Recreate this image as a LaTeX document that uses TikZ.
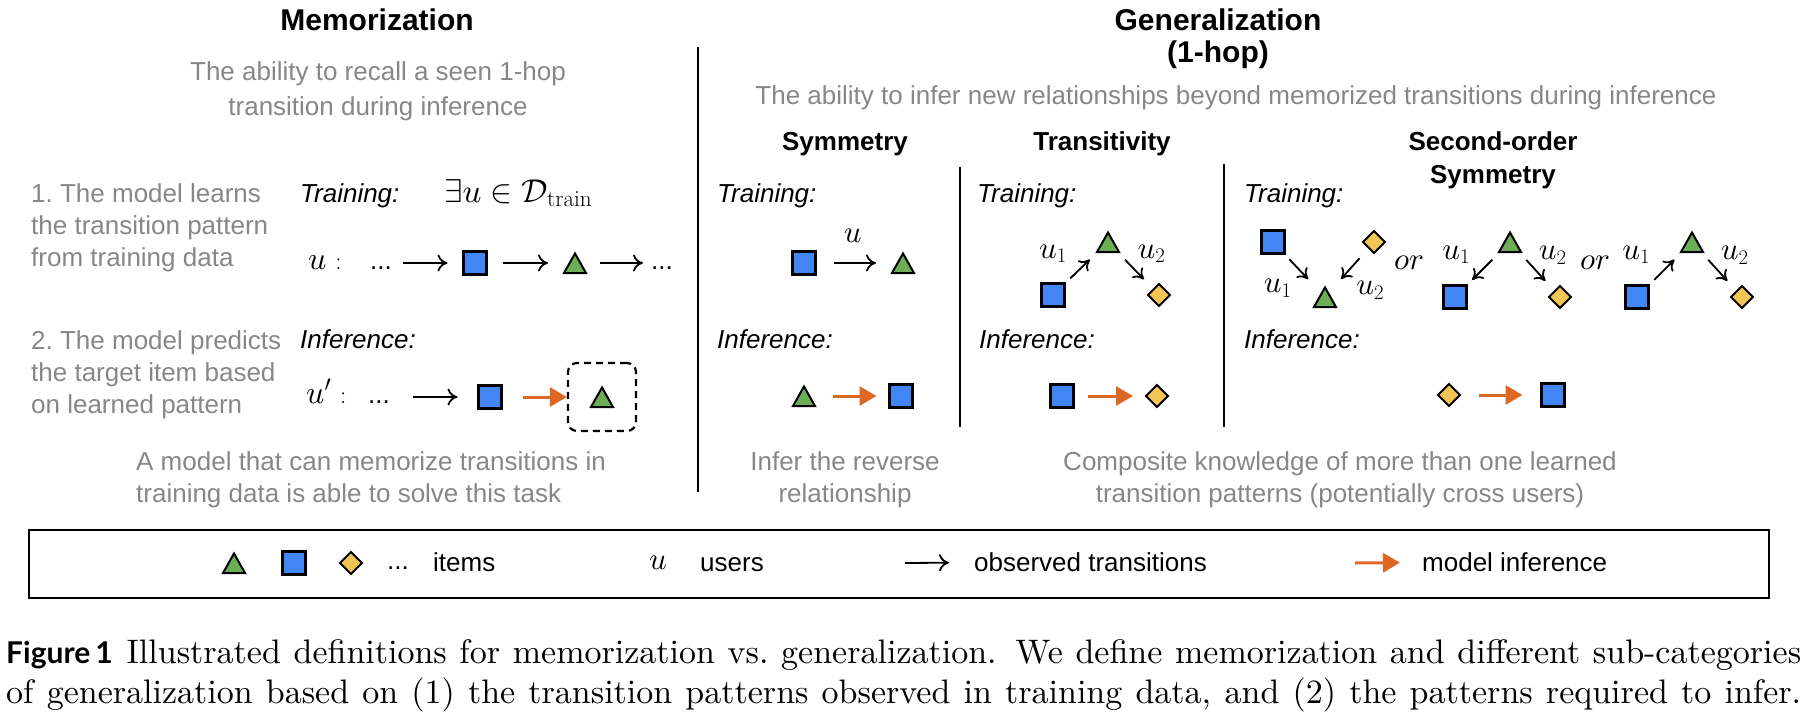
\documentclass[tikz,border=0pt]{standalone}
\usepackage{amsmath,amssymb}
\usepackage{fontspec}
\setsansfont{Liberation Sans}
\newfontfamily\figfont{Lato}
\newfontfamily\capfont{lmroman10-regular.otf}
\DeclareFontShape{OML}{cmm}{m}{it}{<->cmmi10}{}
\DeclareFontShape{OMS}{cmsy}{m}{n}{<->cmsy10}{}
\DeclareFontShape{OMX}{cmex}{m}{n}{<->cmex10}{}
\usetikzlibrary{arrows.meta,shapes.geometric,fit}
\definecolor{itblue}{RGB}{66,133,244}
\definecolor{itgreen}{RGB}{108,174,86}
\definecolor{ityellow}{RGB}{243,197,85}
\definecolor{inforange}{RGB}{221,104,36}
\definecolor{descgray}{RGB}{135,135,135}
\newcommand{\fsz}[2]{\fontsize{#1}{#2}\selectfont}

\begin{document}
\begin{tikzpicture}[x=1pt, y=-1pt,
    sq/.style={draw=black, fill=itblue, line width=2.2pt, minimum size=23pt, inner sep=0pt, outer sep=0pt},
    dia/.style={diamond, draw=black, fill=ityellow, line width=2pt, minimum width=22pt, minimum height=22pt, inner sep=0pt, outer sep=0pt},
    tri/.style={minimum width=26pt, minimum height=24pt, inner sep=0pt, outer sep=0pt,
      path picture={\draw[fill=itgreen, line width=2pt]
        ([xshift=2pt,yshift=2pt]path picture bounding box.south west) --
        ([xshift=-2pt,yshift=2pt]path picture bounding box.south east) --
        ([yshift=-2.5pt]path picture bounding box.north) -- cycle;}},
    dashbox/.style={draw=black, line width=2.2pt, dash pattern=on 7pt off 5pt, rounded corners=9pt, inner xsep=21pt, inner ysep=22pt},
    obs/.style={-{To[length=10pt,width=17pt]}, line width=1.8pt, shorten <=14pt, shorten >=14pt},
    diag/.style={-{To[length=10pt,width=15pt]}, line width=1.8pt, shorten <=8pt, shorten >=8pt},
    inf/.style={-{Triangle[length=17pt,width=19pt]}, line width=3pt, draw=inforange, shorten <=14pt, shorten >=14pt},
    sep/.style={line width=2.3pt},
    ttl/.style={font=\sffamily\bfseries\fsz{30}{32}, inner sep=0pt},
    hdr/.style={font=\sffamily\bfseries\fsz{26}{33}, inner sep=0pt},
    desc/.style={font=\sffamily\fsz{26}{32}, text=descgray, inner sep=0pt},
    txt/.style={font=\sffamily\fsz{26}{32}, inner sep=0pt},
    lbl/.style={font=\sffamily\itshape\fsz{26}{32}, inner sep=0pt},
    mth/.style={font=\fsz{31}{34}, inner sep=0pt},
    dots/.style={font=\sffamily\fsz{26}{32}, inner sep=0pt, text height=12pt, text depth=0pt}
  ]
  \useasboundingbox (0,0) rectangle (1807,725);

  % memorization
  \node[ttl, anchor=base] (memTitle) at (377,31) {Memorization};
  \node[desc, align=center, anchor=north, font=\sffamily\fsz{26}{35}] (memDesc) at (378,61)
    {The ability to recall a seen 1-hop\\transition during inference};
  \node[desc, align=left, anchor=north west] (stepOne) at (31,183)
    {1.\ The model learns\\the transition pattern\\from training data};
  \node[desc, align=left, anchor=north west] (stepTwo) at (31,330)
    {2.\ The model predicts\\the target item based\\on learned pattern};
  \node[lbl, anchor=base west] (trainM) at (300,202) {Training:};
  \node[mth, anchor=base west, font=\fsz{33}{36}] (dTrain) at (444,202) {$\exists u \in \mathcal{D}_{\mathrm{train}}$};
  \node[lbl, anchor=base west] (infM) at (300,348) {Inference:};

  \node[mth, anchor=base west, font=\fsz{32}{34}] (uA) at (308,269) {$u:$};
  \node[dots] (dotsA) at (381,263) {...};
  \node[sq] (sqA) at (475,263) {};
  \node[tri] (triA) at (575,263) {};
  \node[dots] (dotsAend) at (662,263) {...};
  \draw[obs, shorten <=11pt, shorten >=16pt] (dotsA) -- (sqA);
  \draw[obs, shorten <=16pt] (sqA) -- (triA);
  \draw[obs, shorten <=12pt, shorten >=8pt] (triA) -- (dotsAend);

  \node[mth, anchor=base west, font=\fsz{32}{34}] (uB) at (306,403) {$u':$};
  \node[dots] (dotsB) at (379,397) {...};
  \node[sq] (sqB) at (490,397) {};
  \node[tri] (triB) at (602,397) {};
  \node[dashbox, fit=(triB)] (boxB) {};
  \draw[obs, shorten <=23pt, shorten >=21pt] (dotsB) -- (sqB);
  \draw[inf, shorten <=21pt, shorten >=0pt] (sqB) -- (boxB);

  \node[desc, align=left, anchor=north west] (memNote) at (136,451)
    {A model that can memorize transitions in\\training data is able to solve this task};

  \draw[sep] (698,47) -- (698,492);

  % generalization
  \node[ttl, align=center, anchor=north] (genTitle) at (1218,9) {Generalization\\(1-hop)};
  \node[desc, anchor=base] (genDesc) at (1236,104)
    {The ability to infer new relationships beyond memorized transitions during inference};
  \node[hdr, anchor=base] (symTitle) at (845,150) {Symmetry};
  \node[hdr, anchor=base] (traTitle) at (1102,150) {Transitivity};
  \node[hdr, align=center, anchor=north] (socTitle) at (1493,131) {Second-order\\Symmetry};
  \draw[sep] (960,167) -- (960,427);
  \draw[sep] (1224,164) -- (1224,427);

  % symmetry
  \node[lbl, anchor=base west] (trainS) at (717,202) {Training:};
  \node[sq] (sqS) at (804,263) {};
  \node[tri] (triS) at (903,263) {};
  \draw[obs, shorten <=18pt] (sqS) -- node[mth, midway, above=20pt] (uS) {$u$} (triS);
  \node[lbl, anchor=base west] (infS) at (717,348) {Inference:};
  \node[tri] (triSi) at (804,396) {};
  \node[sq] (sqSi) at (901,396) {};
  \draw[inf, shorten <=16pt, shorten >=13pt] (triSi) -- (sqSi);
  \node[desc, align=center, anchor=north] (symNote) at (845,451) {Infer the reverse\\relationship};

  % transitivity
  \node[lbl, anchor=base west] (trainT) at (977,202) {Training:};
  \node[tri] (triT) at (1108,242) {};
  \node[sq] (sqT) at (1053,295) {};
  \node[dia] (diaT) at (1159,295) {};
  \draw[diag] (sqT) -- node[mth, midway, xshift=-27pt, yshift=15pt] {$u_1$} (triT);
  \draw[diag, shorten >=14pt] (triT) -- node[mth, midway, xshift=15pt, yshift=18pt] {$u_2$} (diaT);
  \node[lbl, anchor=base west] (infT) at (979,348) {Inference:};
  \node[sq] (sqTi) at (1062,396) {};
  \node[dia] (diaTi) at (1157,396) {};
  \draw[inf, shorten >=13pt] (sqTi) -- (diaTi);
  \node[desc, align=center, anchor=north] (genNote) at (1340,451)
    {Composite knowledge of more than one learned\\transition patterns (potentially cross users)};

  % second-order symmetry
  \node[lbl, anchor=base west] (trainO) at (1244,202) {Training:};
  \node[sq] (sqO1) at (1273,242) {};
  \node[dia] (diaO1) at (1374,242) {};
  \node[tri] (triO1) at (1325,297) {};
  \draw[diag] (sqO1) -- node[mth, midway, xshift=-21pt, yshift=-19pt] {$u_1$} (triO1);
  \draw[diag, shorten <=14pt] (diaO1) -- node[mth, midway, xshift=18pt, yshift=-24pt] {$u_2$} (triO1);
  \node[mth, anchor=base] (orOne) at (1409,269) {$or$};
  \node[tri] (triO2) at (1510,242) {};
  \node[sq] (sqO2) at (1455,297) {};
  \node[dia] (diaO2) at (1560,297) {};
  \draw[diag] (triO2) -- node[mth, midway, xshift=-26pt, yshift=15pt] {$u_1$} (sqO2);
  \draw[diag, shorten >=14pt] (triO2) -- node[mth, midway, xshift=15pt, yshift=17pt] {$u_2$} (diaO2);
  \node[mth, anchor=base] (orTwo) at (1595,269) {$or$};
  \node[tri] (triO3) at (1692,242) {};
  \node[sq] (sqO3) at (1637,297) {};
  \node[dia] (diaO3) at (1742,297) {};
  \draw[diag] (sqO3) -- node[mth, midway, xshift=-28pt, yshift=15pt] {$u_1$} (triO3);
  \draw[diag, shorten >=14pt] (triO3) -- node[mth, midway, xshift=15pt, yshift=17pt] {$u_2$} (diaO3);
  \node[lbl, anchor=base west] (infO) at (1244,348) {Inference:};
  \node[dia] (diaOi) at (1449,395) {};
  \node[sq] (sqOi) at (1553,395) {};
  \draw[inf, shorten <=19pt, shorten >=19pt] (diaOi) -- (sqOi);

  % legend
  \draw[line width=2.5pt] (29,530) rectangle (1769,598);
  \node[tri] (triL) at (234,563) {};
  \node[sq] (sqL) at (294,563) {};
  \node[dia] (diaL) at (351,563) {};
  \node[dots] (dotsL) at (398,563) {...};
  \node[txt, anchor=base west] (itemsL) at (433,571) {items};
  \node[mth, anchor=base] (uL) at (658,569) {$u$};
  \node[txt, anchor=base west] (usersL) at (700,571) {users};
  \coordinate (obsStart) at (905,563);
  \node[txt, anchor=base west] (obsL) at (974,571) {observed transitions};
  \draw[obs, shorten <=0pt, shorten >=25pt] (obsStart) -- (obsL);
  \coordinate (infStart) at (1355,563);
  \node[txt, anchor=base west] (infL) at (1422,571) {model inference};
  \draw[inf, shorten <=0pt, shorten >=22pt] (infStart) -- (infL);

  % caption
  \node[anchor=base west, inner sep=0pt] (caption) at (6,663) {\parbox[t]{1795pt}{\capfont\fsz{34}{40}\parfillskip=0pt
    {\figfont\bfseries\fsz{30}{40}Figure\,1}\hspace{14pt}Illustrated definitions for memorization vs.\ generalization. We define memorization and different sub-categories\linebreak
    of generalization based on (1) the transition patterns observed in training data, and (2) the patterns required to infer.}};
\end{tikzpicture}
\end{document}
